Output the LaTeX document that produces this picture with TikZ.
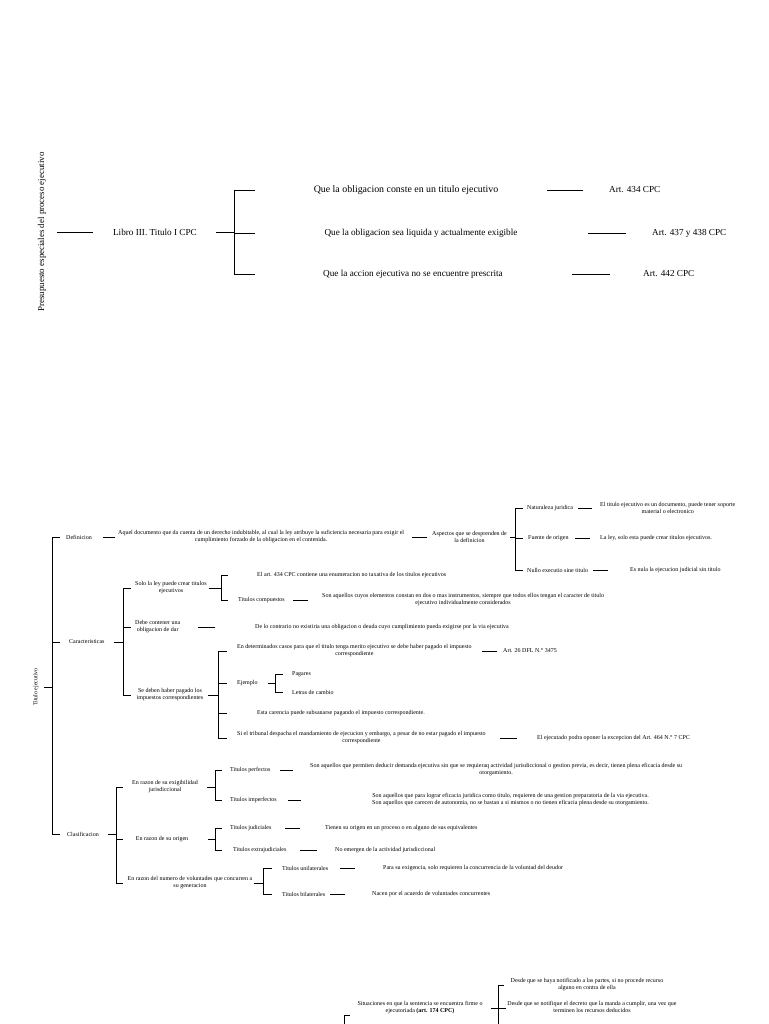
\documentclass[tikz,border=0pt]{standalone}
\usepackage{fontspec}
\setmainfont{Liberation Serif}
\begin{document}
\begin{tikzpicture}[x=1pt,y=-1pt,
  ln/.style={line width=0.8pt},
  big/.style={font=\fontsize{9.2}{11}\selectfont, inner sep=0pt},
  sm/.style={font=\fontsize{6.0}{7.0}\selectfont, inner sep=0pt, align=center},
  smw/.style={sm, anchor=west}]
\useasboundingbox (0,0) rectangle (768,1024);

% ---------------- top section ----------------
\node[big, rotate=90, font=\fontsize{8.9}{10}\selectfont] (pres) at (42,232) {Presupuesto especiales del proceso ejecutivo};
\node[big] (lib) at (155,232) {Libro III. Titulo I CPC};
\node[big, font=\fontsize{9.9}{11}\selectfont] (q1) at (406,190) {Que la obligacion conste en un titulo ejecutivo};
\node[big] (q2) at (421,233) {Que la obligacion sea liquida y actualmente exigible};
\node[big] (q3) at (413,274) {Que la accion ejecutiva no se encuentre prescrita};
\node[big, anchor=west] (a1) at (609,190) {Art. 434 CPC};
\node[big, anchor=west] (a2) at (652,233) {Art. 437 y 438 CPC};
\node[big, anchor=west] (a3) at (643,274) {Art. 442 CPC};
\coordinate (k0) at (234,232);
\draw[ln, shorten <=11pt, shorten >=20pt] (pres.south) -- (lib.west);
\draw[ln, shorten <=19pt] (lib.east) -- (k0);
\draw[ln] (k0 |- q1) -- (k0 |- q3);
\draw[ln] (k0 |- q1) -- ++(21,0);
\draw[ln] (k0 |- q2) -- ++(21,0);
\draw[ln] (k0 |- q3) -- ++(21,0);
\draw[ln] ([xshift=-26pt]a1.west) -- ++(-36,0);
\draw[ln] ([xshift=-26pt]a2.west) -- ++(-38,0);
\draw[ln] ([xshift=-33pt]a3.west) -- ++(-38,0);

% ---------------- lower tree ----------------
\node[sm, rotate=90] (tv) at (36,687) {Titulo ejecutivo};
\node[smw] (def) at (66,537) {Definicion};
\node[smw] (car) at (69,642) {Caracteristicas};
\node[smw] (cla) at (67,834) {Clasificacion};
\coordinate (kT) at (52,687);
\draw[ln, shorten <=5pt] (tv.south) -- (kT);
\draw[ln] (kT |- def) -- (kT |- cla);
\draw[ln] (kT |- def) -- ++(8,0);
\draw[ln] (kT |- car) -- ++(8,0);
\draw[ln] (kT |- cla) -- ++(8,0);

% Definicion
\node[smw] (aq) at (118,537) {Aquel documento que da cuenta de un derecho indubitable, al cual la ley atribuye la suficiencia necesaria para exigir el\\cumplimiento forzado de la obligacion en el contenida.};
\node[smw] (asp) at (432,537) {Aspectos que se desprenden de\\la definicion};
\draw[ln] ([xshift=-3pt]aq.west) -- ++(-12,0);
\draw[ln] ([xshift=-5pt]asp.west) -- ++(-15,0);
\coordinate (kD) at (515,537);
\node[smw] (nat) at (527,508) {Naturaleza juridica};
\node[smw] (fue) at (528,538) {Fuente de origen};
\node[smw] (nul) at (527,570) {Nullo executio sine titulo};
\draw[ln, shorten <=3pt] (asp.east) -- (kD);
\draw[ln] (kD |- nat) -- (kD |- nul);
\draw[ln] (kD |- nat) -- ++(8,0);
\draw[ln] (kD |- fue) -- ++(8,0);
\draw[ln] (kD |- nul) -- ++(8,0);
\node[smw] (natd) at (600,508) {El titulo ejecutivo es un documento, puede tener soporte\\material o electronico};
\node[smw] (fued) at (600,538) {La ley, solo esta puede crear titulos ejecutivos.};
\node[smw] (nuld) at (630,570) {Es nula la ejecucion judicial sin titulo};
\draw[ln] ([xshift=-8pt]natd.west) -- ++(-14,0);
\draw[ln] ([xshift=-10pt]fued.west) -- ++(-15,0);
\draw[ln] ([xshift=-22pt]nuld.west) -- ++(-15,0);

% Caracteristicas
\coordinate (kC) at (123,642);
\node[smw] (solo) at (135,588) {Solo la ley puede crear titulos\\ejecutivos};
\node[smw] (debe) at (135,627) {Debe contener una\\obligacion de dar};
\node[sm] (seb) at (170,695) {Se deben haber pagado los\\impuestos correspondientes};
\draw[ln, shorten <=9pt] (car.east) -- (kC);
\draw[ln] (kC |- solo) -- (kC |- seb);
\draw[ln] (kC |- solo) -- ++(8,0);
\draw[ln] (kC |- debe) -- ++(8,0);
\draw[ln] (kC |- seb) -- ++(8,0);

\coordinate (kS) at (221,588);
\node[smw] (art) at (257,575) {El art. 434 CPC contiene una enumeracion no taxativa de los titulos ejecutivos};
\node[smw] (tcomp) at (238,600) {Titulos compuestos};
\node[smw] (tcd) at (322,600) {Son aquellos cuyos elementos constan en dos o mas instrumentos, siempre que todos ellos tengan el caracter de titulo\\ejecutivo individualmente considerados};
\draw[ln, shorten <=2pt] (solo.east) -- (kS);
\draw[ln] (kS |- art) -- (kS |- tcomp);
\draw[ln] (kS |- art) -- ++(7,0);
\draw[ln] (kS |- tcomp) -- ++(7,0);
\draw[ln] ([xshift=-14pt]tcd.west) -- ++(-15,0);

\node[smw] (dlc) at (255,627) {De lo contrario no existiria una obligacion o deuda cuyo cumplimiento pueda exigirse por la via ejecutiva};
\draw[ln] ([xshift=-40pt]dlc.west) -- ++(-17,0);

\coordinate (kB) at (218,695);
\node[smw] (edc) at (237,651) {En determinados casos para que el titulo tenga merito ejecutivo se debe haber pagado el impuesto\\correspondiente};
\node[smw] (ej) at (237,683) {Ejemplo};
\node[smw] (esta) at (257,713) {Esta carencia puede subsanarse pagando el impuesto correspondiente.};
\node[smw] (sit) at (237,738) {Si el tribunal despacha el mandamiento de ejecucion y embargo, a pesar de no estar pagado el impuesto\\correspondiente};
\draw[ln, shorten <=5pt] (seb.east) -- (kB);
\draw[ln] (kB |- edc) -- (kB |- sit);
\draw[ln] (kB |- edc) -- ++(9,0);
\draw[ln] (kB |- ej) -- ++(9,0);
\draw[ln] (kB |- esta) -- ++(9,0);
\draw[ln] (kB |- sit) -- ++(9,0);
\node[smw] (art26) at (503,651) {Art. 26 DFL N.° 3475};
\draw[ln] ([xshift=-6pt]art26.west) -- ++(-15,0);
\coordinate (kE) at (275,683);
\node[smw] (pag) at (292,674) {Pagares};
\node[smw] (let) at (292,692) {Letras de cambio};
\draw[ln, shorten <=10pt] (ej.east) -- (kE);
\draw[ln] (kE |- pag) -- (kE |- let);
\draw[ln] (kE |- pag) -- ++(8,0);
\draw[ln] (kE |- let) -- ++(8,0);
\node[smw] (eje) at (537,738) {El ejecutado podra oponer la excepcion del Art. 464 N.° 7 CPC};
\draw[ln] ([xshift=-20pt]eje.west) -- ++(-17,0);

% Clasificacion
\coordinate (kL) at (116,834);
\node[sm] (exi) at (165,787) {En razon de su exigibilidad\\jurisdiccional};
\node[sm] (ori) at (162,839) {En razon de su origen};
\node[sm] (num) at (190,883) {En razon del numero de voluntades que concurren a\\su generacion};
\draw[ln, shorten <=9pt] (cla.east) -- (kL);
\draw[ln] (kL |- exi) -- (kL |- num);
\draw[ln] (kL |- exi) -- ++(7,0);
\draw[ln] (kL |- ori) -- ++(7,0);
\draw[ln] (kL |- num) -- ++(7,0);

\coordinate (kX) at (215,787);
\node[smw] (tper) at (230,770) {Titulos perfectos};
\node[smw] (timp) at (230,800) {Titulos imperfectos};
\draw[ln, shorten <=9pt] (exi.east) -- (kX);
\draw[ln] (kX |- tper) -- (kX |- timp);
\draw[ln] (kX |- tper) -- ++(7,0);
\draw[ln] (kX |- timp) -- ++(7,0);
\node[smw] (tperd) at (310,770) {Son aquellos que permiten deducir demanda ejecutiva sin que se requieraq actividad jurisdiccional o gestion previa, es decir, tienen plena eficacia desde su\\otorgamiento.};
\node[smw] (timpd) at (372,800) {Son aquellos que para lograr eficacia juridica como titulo, requieren de una gestion preparatoria de la via ejecutiva.\\Son aquellos que carecen de autonomia, no se bastan a si mismos o no tienen eficacia plena desde su otorgamiento.};
\draw[ln] ([xshift=-17pt]tperd.west) -- ++(-13,0);
\draw[ln] ([xshift=11pt]timp.east) -- ++(13,0);

\coordinate (kO) at (215,839);
\node[smw] (tjud) at (230,828) {Titulos judiciales};
\node[smw] (text) at (233,850) {Titulos extrajudiciales};
\draw[ln, shorten <=20pt] (ori.east) -- (kO);
\draw[ln] (kO |- tjud) -- (kO |- text);
\draw[ln] (kO |- tjud) -- ++(7,0);
\draw[ln] (kO |- text) -- ++(7,0);
\node[smw] (tjudd) at (325,828) {Tienen su origen en un proceso o en alguno de sus equivalentes};
\node[smw] (textd) at (335,850) {No emergen de la actividad jurisdiccional};
\draw[ln] ([xshift=-25pt]tjudd.west) -- ++(-15,0);
\draw[ln] ([xshift=-18pt]textd.west) -- ++(-17,0);

\coordinate (kN) at (263,883);
\node[smw] (tuni) at (282,868) {Titulos unilaterales};
\node[smw] (tbil) at (282,894) {Titulos bilaterales};
\draw[ln, shorten <=1pt] (num.east) -- (kN);
\draw[ln] (kN |- tuni) -- (kN |- tbil);
\draw[ln] (kN |- tuni) -- ++(9,0);
\draw[ln] (kN |- tbil) -- ++(9,0);
\node[smw] (tunid) at (383,868) {Para su exigencia, solo requieren la concurrencia de la voluntad del deudor};
\node[smw] (tbild) at (372,894) {Nacen por el acuerdo de voluntades concurrentes};
\draw[ln] ([xshift=-28pt]tunid.west) -- ++(-15,0);
\draw[ln] ([xshift=-27pt]tbild.west) -- ++(-15,0);

% ---------------- bottom section ----------------
\node[sm] (sitf) at (420,1008) {Situaciones en que la sentencia se encuentra firme o\\ejecutoriada \textbf{(art. 174 CPC)}};
\node[sm] (d1) at (587,985) {Desde que se haya notificado a las partes, si no procede recurso\\alguno en contra de ella};
\node[sm] (d2) at (592,1007) {Desde que se notifique el decreto que la manda a cumplir, una vez que\\terminen los recursos deducidos};
\coordinate (kR) at (498,1008);
\coordinate (kRend) at (498,1024);
\draw[ln, shorten <=8pt] (sitf.east) -- (kR);
\draw[ln] (kR |- d1) -- (kRend);
\draw[ln] (kR |- d1) -- ++(6,0);
\draw[ln] (kR) -- ++(8,0);
\coordinate (kLb) at (344,1015);
\coordinate (kLbend) at (344,1024);
\draw[ln] (kLb) -- (kLbend);
\draw[ln] (kLb) -- ++(6,0);
\end{tikzpicture}
\end{document}
